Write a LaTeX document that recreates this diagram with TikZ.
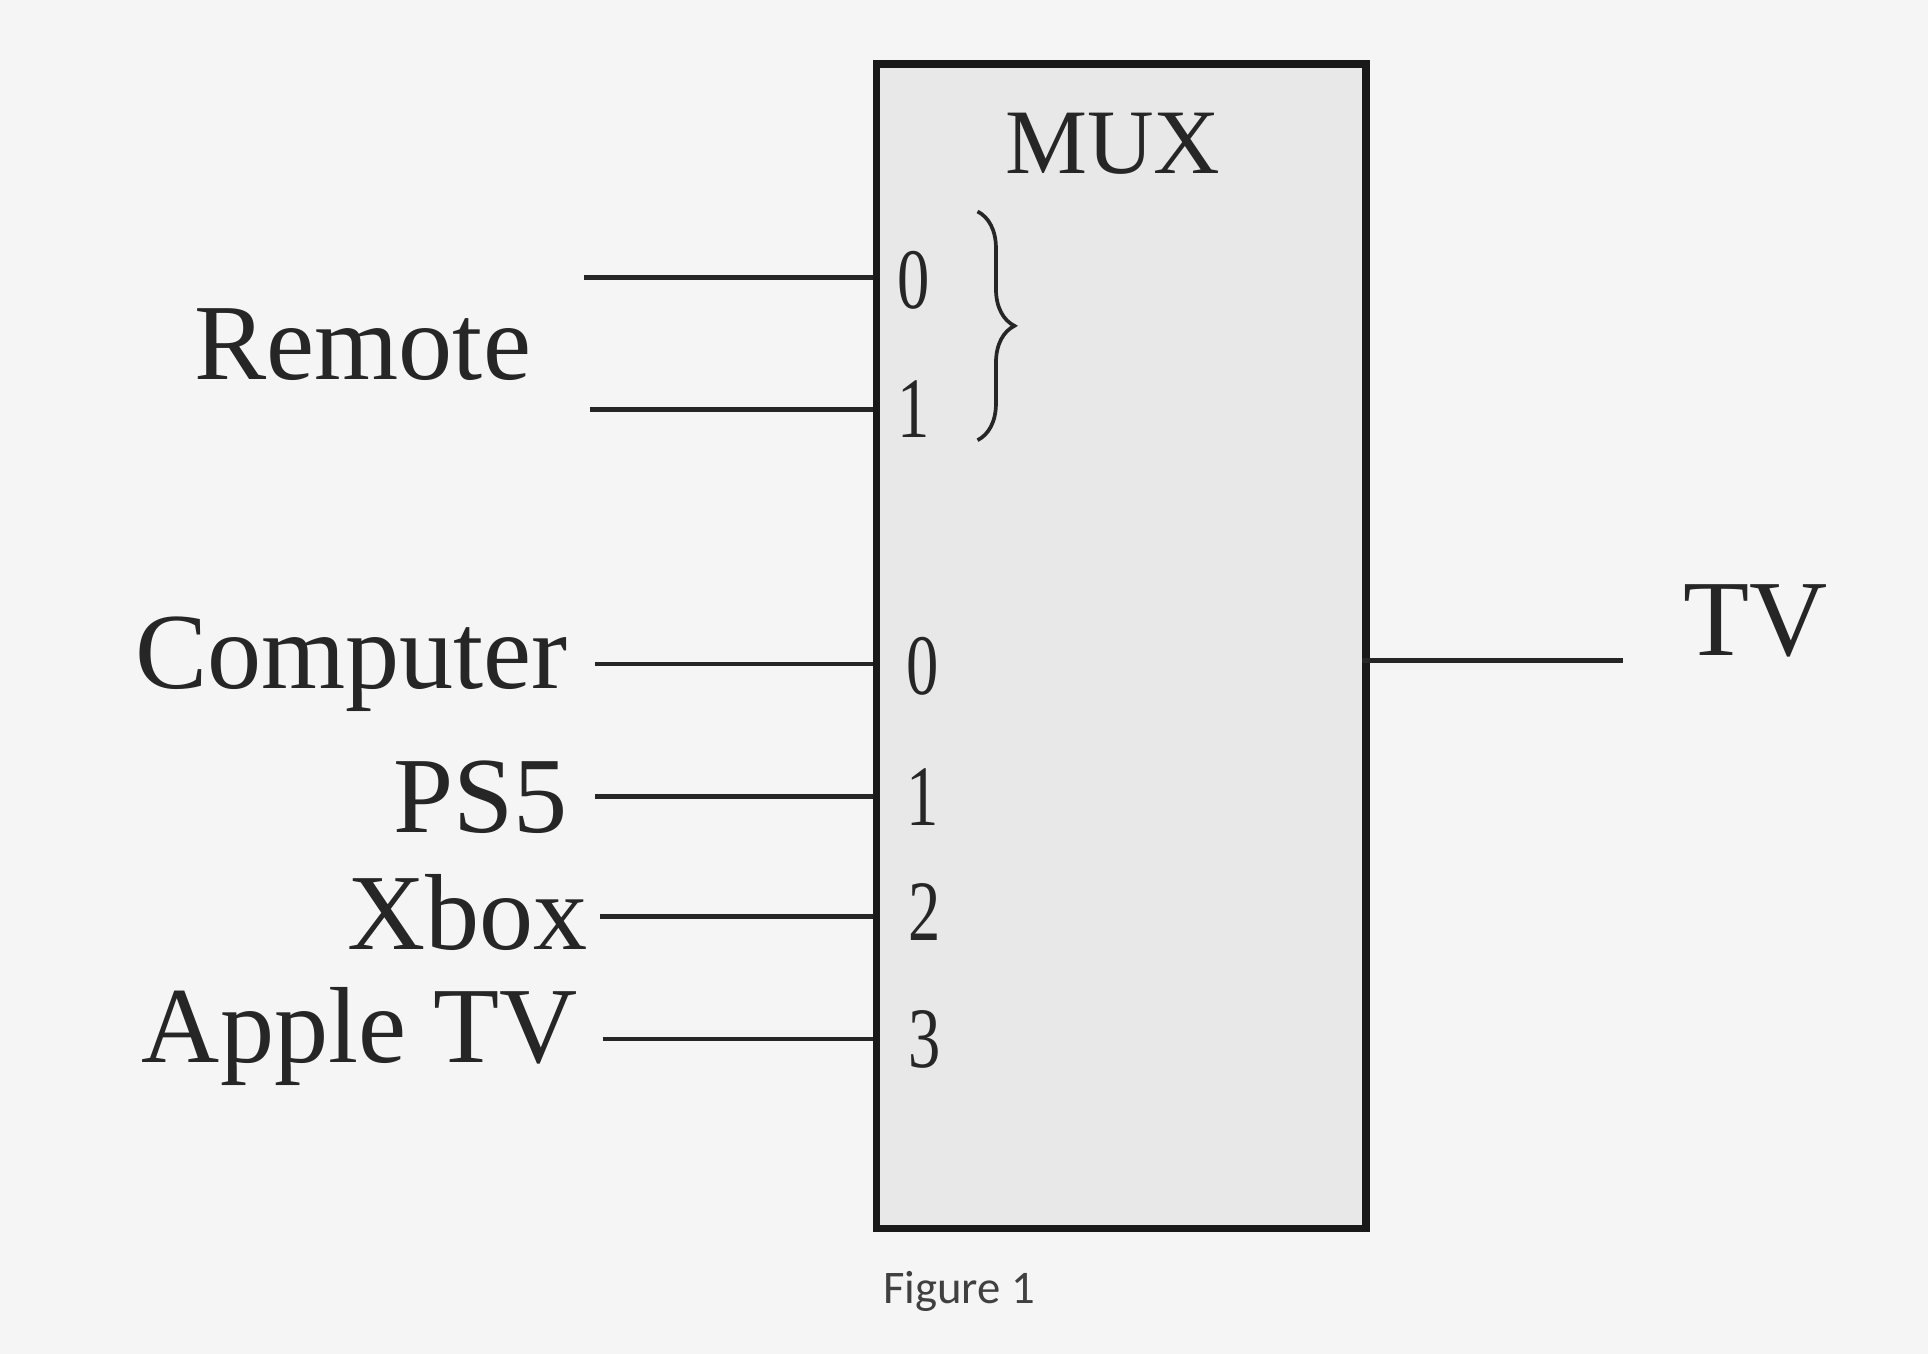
\documentclass[tikz,border=0pt]{standalone}
\usepackage{fontspec}
\setmainfont{Liberation Serif}
\newfontfamily\capfont{Carlito}
\usetikzlibrary{decorations.pathreplacing}
\begin{document}
\begin{tikzpicture}[x=1pt,y=-1pt,
  wire/.style={line width=4pt,draw=black!85},
  lbl/.style={font=\fontsize{88}{88}\selectfont,inner sep=0pt,text=black!85},
  pin/.style={font=\fontsize{70}{70}\selectfont,inner sep=0pt,xscale=0.75,text=black!85}]
\fill[gray!8] (0,0) rectangle (1568,1101);
\useasboundingbox (0,0) rectangle (1568,1101);
\node[draw=black!90,line width=6pt,fill=gray!18,minimum width=398pt,minimum height=947pt,anchor=north west] (mux) at (710,49) {};
\node[font=\fontsize{75}{75}\selectfont,text=black!85] (title) at (905,117) {MUX};
\coordinate (r0) at (710,226); \coordinate (r1) at (710,333);
\coordinate (c0) at (710,540); \coordinate (c1) at (710,648);
\coordinate (c2) at (710,745); \coordinate (c3) at (710,845);
\coordinate (tv) at (1108,537);
\coordinate (r0s) at (475,226); \coordinate (r1s) at (480,333);
\coordinate (tve) at (1320,537);
\draw[wire] (r0s) -- (r0);
\draw[wire] (r1s) -- (r1);
\node[lbl,anchor=east] (comp) at (462,540) {Computer};
\node[lbl,anchor=east] (ps5) at (462,648) {PS5};
\node[lbl,anchor=east] (xbox) at (478,742) {Xbox};
\node[lbl,anchor=east] (atv) at (470,843) {Apple TV};
\node[lbl] (remote) at (295,280) {Remote};
\node[lbl] (tvl) at (1428,505) {TV};
\draw[wire] ([xshift=22pt]comp.east |- c0) -- (c0);
\draw[wire] ([xshift=22pt]ps5.east |- c1) -- (c1);
\draw[wire] ([xshift=10pt]xbox.east |- c2) -- (c2);
\draw[wire] ([xshift=20pt]atv.east |- c3) -- (c3);
\draw[wire] (tv) -- (tve);
\node[pin] (p0a) at (743,228) {0};
\node[pin] (p1a) at (743,333) {1};
\node[pin] (p0b) at (750,542) {0};
\node[pin] (p1b) at (750,648) {1};
\node[pin] (p2b) at (752,742) {2};
\node[pin] (p3b) at (752,845) {3};
\draw[decorate,decoration={brace,amplitude=30pt},line width=3pt,draw=black!85] (795,172) -- (795,358);
\node[font=\capfont\fontsize{38}{38}\selectfont,text=black!75] (fig) at (780,1050) {Figure 1};
\end{tikzpicture}
\end{document}
